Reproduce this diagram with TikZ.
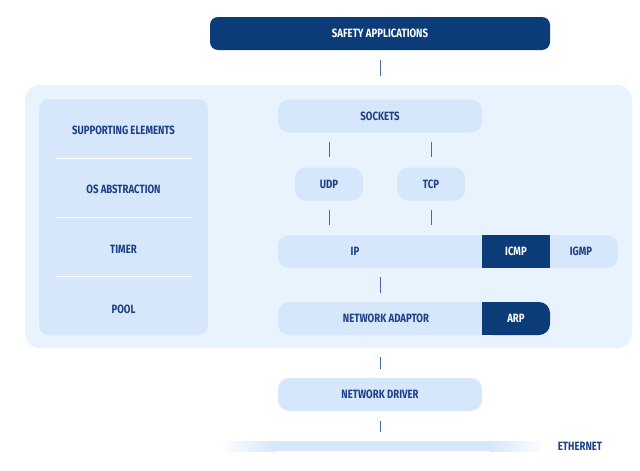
\documentclass[tikz,border=0pt]{standalone}
\usepackage{fontspec}
\setmainfont{Fira Sans}[FakeStretch=0.8]
\definecolor{navy}{HTML}{0B3C78}
\definecolor{txtblue}{HTML}{1D3F85}
\definecolor{boxblue}{HTML}{D6E7FB}
\definecolor{bgblue}{HTML}{E9F3FE}
\definecolor{tickblue}{HTML}{4A68A8}
\tikzset{
  lbl/.style={font=\bfseries\fontsize{12}{14}\selectfont, text=txtblue, inner sep=0pt},
  darklbl/.style={font=\bfseries\fontsize{12}{14}\selectfont, text=white, inner sep=0pt},
  pill/.style={fill=boxblue, rounded corners=11pt, minimum height=33pt, inner sep=0pt},
  darkbox/.style={fill=navy, minimum height=33pt, inner sep=0pt},
  tick/.style={draw=tickblue, line width=1pt},
  divider/.style={draw=white, line width=1pt}
}
\begin{document}
\begin{tikzpicture}[x=1pt,y=-1pt]
\useasboundingbox (0,0) rectangle (640,471);
\fill[white] (0,0) rectangle (640,471);
% outer background
\fill[bgblue, rounded corners=15pt] (25,85) rectangle (632,348);
% safety applications
\node[darkbox, rounded corners=8pt, minimum width=340pt] (safety) at (380,33.5) {};
\node[darklbl] at (safety) {SAFETY APPLICATIONS};
% left panel
\node[fill=boxblue, rounded corners=10pt, minimum width=169pt, minimum height=236pt, inner sep=0pt] (panel) at (123.5,217) {};
\node[lbl] (supp) at (123.5,130) {SUPPORTING ELEMENTS};
\node[lbl] (osabs) at (123.5,189) {OS ABSTRACTION};
\node[lbl] (timer) at (123.5,249) {TIMER};
\node[lbl] (pool) at (123.5,309) {POOL};
\draw[divider] (56,158) -- (192,158);
\draw[divider] (56,217) -- (192,217);
\draw[divider] (56,276) -- (192,276);
% sockets
\node[pill, minimum width=204pt] (sockets) at (380,116) {};
\node[lbl] at (sockets) {SOCKETS};
% udp tcp
\node[pill, minimum width=68pt] (udp) at (329,184) {};
\node[lbl] at (udp) {UDP};
\node[pill, minimum width=68pt] (tcp) at (431,184) {};
\node[lbl] at (tcp) {TCP};
% ip row
\node[pill, minimum width=340pt] (iprow) at (448,251.5) {};
\node[darkbox, minimum width=68pt] (icmp) at (516,251.5) {};
\node[lbl] (ip) at (355,251.5) {IP};
\node[darklbl] at (icmp) {ICMP};
\node[lbl] (igmp) at (581,251.5) {IGMP};
% network adaptor row
\node[pill, minimum width=272pt] (adaptor) at (414,318.5) {};
\node[darkbox, rounded corners=11pt, minimum width=68pt] (arp) at (516,318.5) {};
\fill[navy] (482,302) rectangle (500,335);
\node[lbl] at (386,318.5) {NETWORK ADAPTOR};
\node[darklbl] at (arp) {ARP};
% network driver
\node[pill, minimum width=204pt] (driver) at (380,394.5) {};
\node[lbl] at (driver) {NETWORK DRIVER};
% ethernet
\coordinate (eth) at (380,441);
\shade[left color=white, right color=boxblue] (220,441) rectangle (275,451);
\fill[boxblue] (275,441) rectangle (490,451);
\shade[left color=boxblue, right color=white] (490,441) rectangle (545,451);
\node[lbl] (ethlbl) at (580,446) {ETHERNET};
% ticks
\draw[tick, shorten <=10pt, shorten >=23pt] (safety.south) -- (sockets.north);
\draw[tick, shorten <=9pt, shorten >=10pt] (sockets.south -| udp.north) -- (udp.north);
\draw[tick, shorten <=9pt, shorten >=10pt] (sockets.south -| tcp.north) -- (tcp.north);
\draw[tick, shorten <=9pt, shorten >=10pt] (udp.south) -- (udp.south |- iprow.north);
\draw[tick, shorten <=9pt, shorten >=10pt] (tcp.south) -- (tcp.south |- iprow.north);
\draw[tick, shorten <=9pt, shorten >=9pt] (iprow.south -| sockets.south) -- (adaptor.north -| sockets.south);
\draw[tick, shorten <=22pt, shorten >=9pt] (adaptor.south -| sockets.south) -- (driver.north);
\draw[tick, shorten <=10pt, shorten >=9pt] (driver.south) -- (eth);
\end{tikzpicture}
\end{document}
